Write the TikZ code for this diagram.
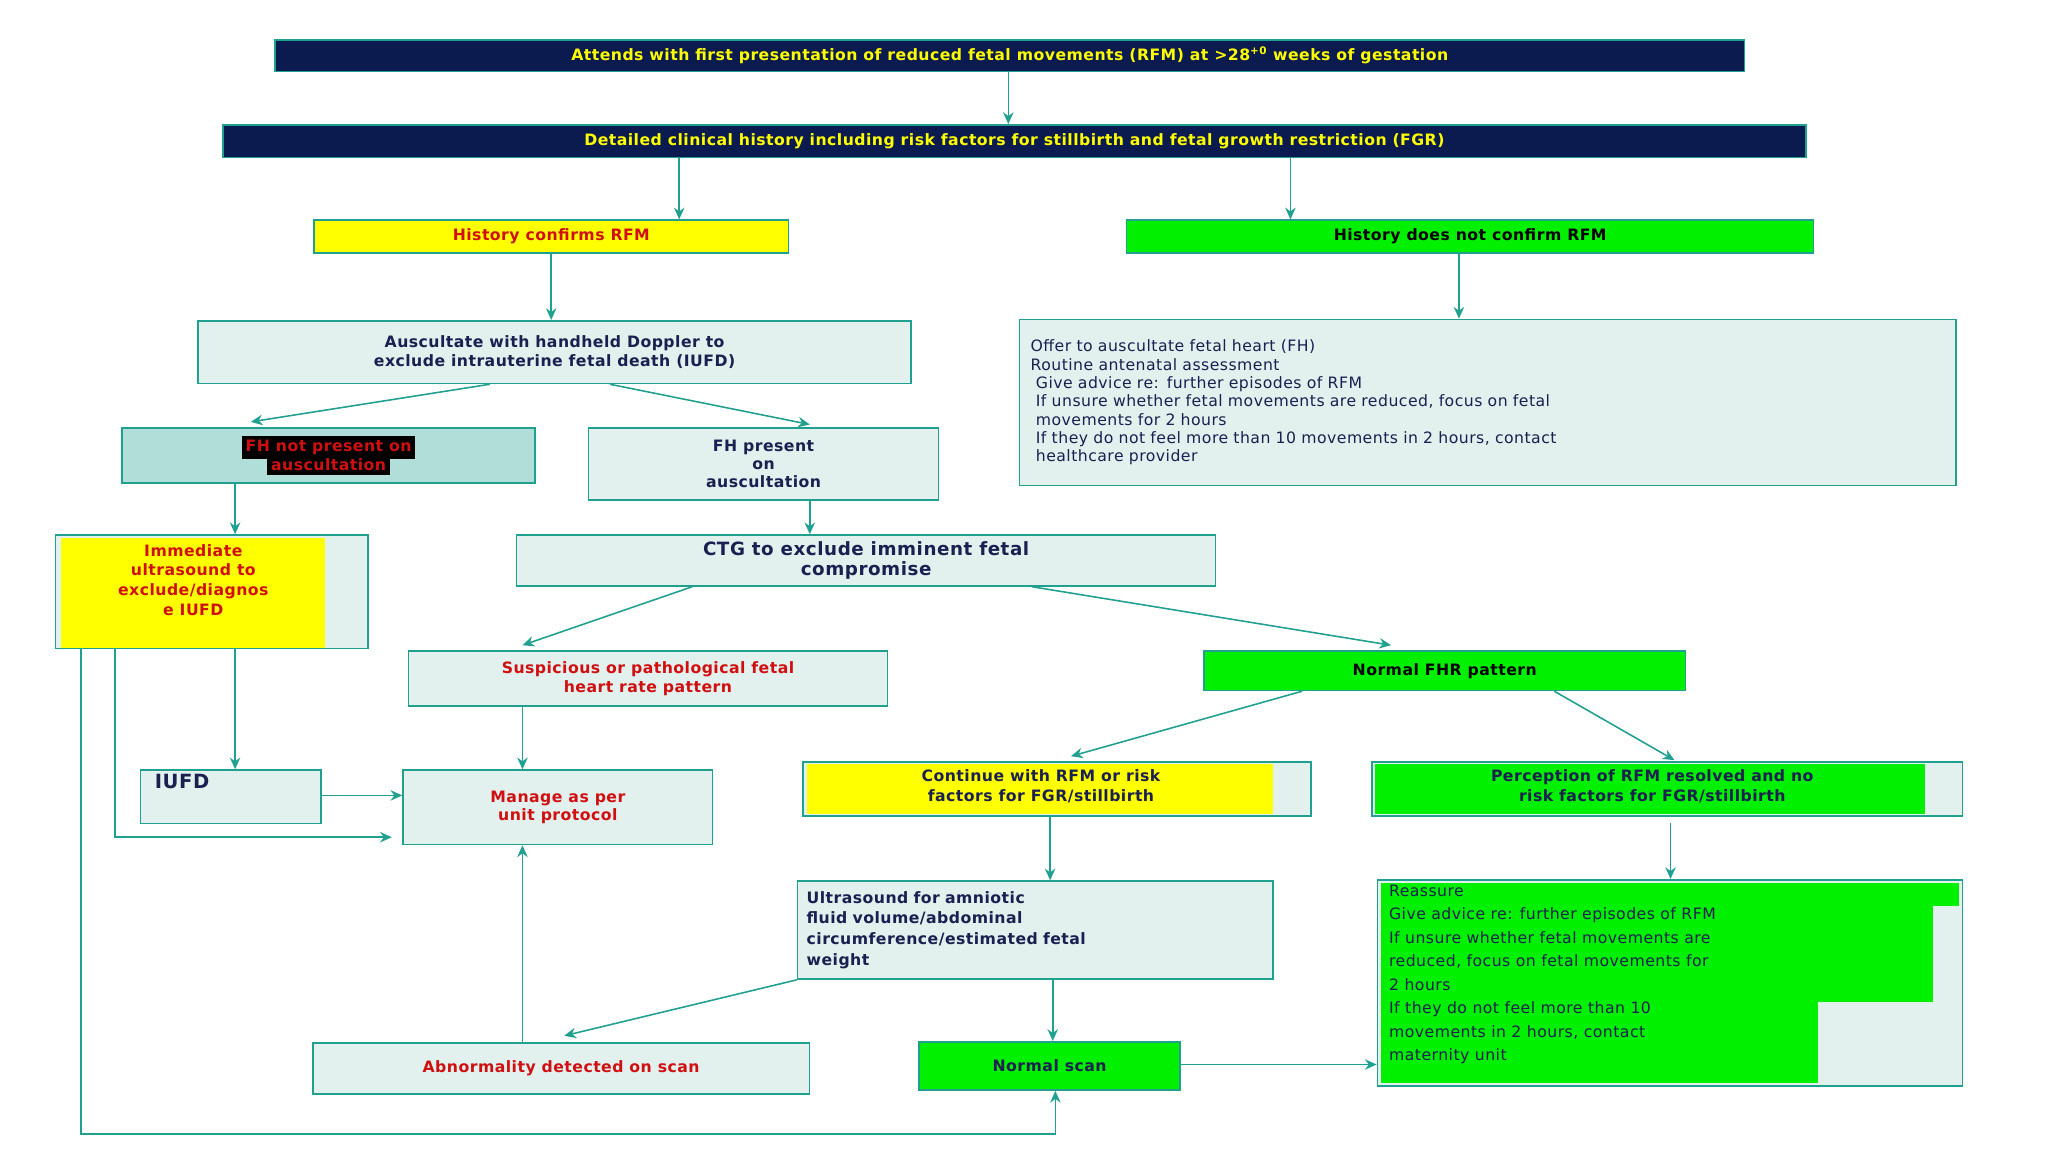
\documentclass[tikz,border=0pt]{standalone}
\usepackage{fontspec}
\setmainfont{DejaVu Sans}[LetterSpace=3]
\usetikzlibrary{arrows.meta}
\definecolor{teal1}{HTML}{20A08F}
\definecolor{navy}{HTML}{0B1A4F}
\definecolor{lightb}{HTML}{E2F0EE}
\definecolor{grn}{HTML}{00F000}
\definecolor{yel}{HTML}{FFFF00}
\definecolor{rd}{HTML}{D01010}
\definecolor{dk}{HTML}{1A2050}
\begin{document}
\begin{tikzpicture}[x=1pt,y=-1pt,
 box/.style={draw=teal1,line width=1.2pt,anchor=north west,inner sep=2pt,align=center,fill=lightb,font=\fontsize{12}{14}\selectfont,text=dk},
 arr/.style={draw=teal1,line width=1.2pt,-{Stealth[length=9pt,width=8pt]}},
 ln/.style={draw=teal1,line width=1.2pt}]
\useasboundingbox (0,0) rectangle (1568,882);
\fill[white] (0,0) rectangle (1568,882);
\def\bx#1#2#3#4#5{\path (#2,#3) rectangle (#4,#5); }
% top
\node[box,fill=navy,text=yel,font=\bfseries\fontsize{12}{14}\selectfont,minimum width=1125pt,minimum height=24pt] (top) at (210,30) {Attends with first presentation of reduced fetal movements (RFM) at >28\textsuperscript{+0} weeks of gestation};
\node[box,fill=navy,text=yel,font=\bfseries\fontsize{12}{14}\selectfont,minimum width=1212pt,minimum height=25pt] (det) at (170,95) {Detailed clinical history including risk factors for stillbirth and fetal growth restriction (FGR)};
\node[box,fill=yel,text=rd,minimum width=363pt,minimum height=25pt] (hc) at (240,168) {\bfseries History confirms RFM};
\node[box,fill=grn,text=black,minimum width=526pt,minimum height=25pt] (hn) at (862,168) {\bfseries History does not confirm RFM};
\node[box,minimum width=546pt,minimum height=48pt] (aus) at (151,245) {\bfseries Auscultate with handheld Doppler to\\\bfseries exclude intrauterine fetal death (IUFD)};
\node[box,minimum width=717pt,minimum height=127pt,align=left,text=dk,text width=700pt,inner sep=5pt] (off) at (780,244) {Offer to auscultate fetal heart (FH)\\Routine antenatal assessment\\\ Give advice re: further episodes of RFM\\\ If unsure whether fetal movements are reduced, focus on fetal\\\ movements for 2 hours\\\ If they do not feel more than 10 movements in 2 hours, contact\\\ healthcare provider};
\node[box,fill=teal1!35,minimum width=316pt,minimum height=42pt,text=rd] (fn) at (93,327) {\bfseries\colorbox{black}{FH not present on}\\[-4pt]\bfseries\colorbox{black}{auscultation}};
\node[box,minimum width=268pt,minimum height=55pt] (fp) at (450,327) {\bfseries FH present\\\bfseries on\\\bfseries auscultation};
\node[box,minimum width=239pt,minimum height=87pt] (im) at (42,409) {};
\fill[yel] (47,412) rectangle (249,496);
\node[text=rd,font=\bfseries\fontsize{12}{15}\selectfont,align=center] at (148,444) {Immediate\\ultrasound to\\exclude/diagnos\\e IUFD};
\node[box,minimum width=535pt,minimum height=39pt,font=\bfseries\fontsize{14}{16}\selectfont] (ctg) at (395,409) {CTG to exclude imminent fetal\\compromise};
\node[box,minimum width=367pt,minimum height=42pt,text=rd] (sus) at (312,498) {\bfseries Suspicious or pathological fetal\\\bfseries heart rate pattern};
\node[box,fill=grn,text=black,minimum width=369pt,minimum height=30pt] (nf) at (921,498) {\bfseries Normal FHR pattern};
\node[box,minimum width=138pt,minimum height=41pt,align=left,font=\bfseries\fontsize{15}{17}\selectfont,text=dk] (iu) at (107,589) {};
\node[anchor=north west,font=\bfseries\fontsize{15}{17}\selectfont,text=dk] at (115,589) {IUFD};
\node[box,minimum width=237pt,minimum height=57pt,text=rd] (man) at (308,589) {\bfseries Manage as per\\\bfseries unit protocol};
\node[box,minimum width=389pt,minimum height=41pt] (co) at (614,583) {};
\fill[yel] (618,585) rectangle (975,623);
\node[font=\bfseries\fontsize{12}{15}\selectfont,text=dk,align=center] at (797,602) {Continue with RFM or risk\\factors for FGR/stillbirth};
\node[box,minimum width=452pt,minimum height=41pt] (pe) at (1050,583) {};
\fill[grn] (1053,585) rectangle (1474,623);
\node[font=\bfseries\fontsize{12}{15}\selectfont,text=dk,align=center] at (1265,602) {Perception of RFM resolved and no\\risk factors for FGR/stillbirth};
\node[box,minimum width=364pt,minimum height=75pt,align=left,text width=350pt,font=\bfseries\fontsize{12}{16}\selectfont] (us) at (610,674) {Ultrasound for amniotic\\fluid volume/abdominal\\circumference/estimated fetal\\weight};
\node[box,minimum width=448pt,minimum height=158pt] (re) at (1054,673) {};
\fill[grn] (1057,676) rectangle (1500,694);
\fill[grn] (1057,694) rectangle (1480,767);
\fill[grn] (1057,767) rectangle (1392,829);
\node[anchor=north west,align=left,text=dk,font=\fontsize{12}{18}\selectfont] at (1060,674) {Reassure\\Give advice re: further episodes of RFM\\If unsure whether fetal movements are\\reduced, focus on fetal movements for\\2 hours\\If they do not feel more than 10\\movements in 2 hours, contact\\maternity unit};
\node[box,minimum width=380pt,minimum height=39pt,text=rd] (ab) at (239,798) {\bfseries Abnormality detected on scan};
\node[box,fill=grn,text=dk,minimum width=200pt,minimum height=37pt] (ns) at (703,797) {\bfseries Normal scan};
% arrows
\draw[arr] (top.south -| 772,0) -- (det.north -| 772,0);
\draw[arr] (det.south -| 520,0) -- (hc.north -| 520,0);
\draw[arr] (det.south -| 988,0) -- (hn.north -| 988,0);
\draw[arr] (hc.south -| 422,0) -- (aus.north -| 422,0);
\draw[arr] (hn.south -| 1117,0) -- (off.north -| 1117,0);
\draw[arr] (aus.south -| 375,0) -- (192,323);
\draw[arr] (aus.south -| 467,0) -- (620,325);
\draw[arr] (fn.south -| 180,0) -- (im.north -| 180,0);
\draw[arr] (fp.south -| 620,0) -- (ctg.north -| 620,0);
\draw[arr] (ctg.south -| 530,0) -- (400,494);
\draw[arr] (ctg.south -| 790,0) -- (1065,494);
\draw[arr] (im.south -| 180,0) -- (iu.north -| 180,0);
\draw[arr] (im.south -| 88,0) |- (300,641);
\draw[arr] (im.south -| 62,0) -- (62,868) -| (ns.south -| 808,0);
\draw[arr] (sus.south -| 400,0) -- (man.north -| 400,0);
\draw[arr] (iu.east |- 0,609) -- (man.west |- 0,609);
\draw[arr] (nf.south -| 997,0) -- (820,579);
\draw[arr] (nf.south -| 1190,0) -- (1282,582);
\draw[arr] (co.south -| 804,0) -- (us.north -| 804,0);
\draw[arr] (1279,630) -- (re.north -| 1279,0);
\draw[arr] (us.south west) -- (432,793);
\draw[arr] (us.south -| 806,0) -- (ns.north -| 806,0);
\draw[arr] (ab.north -| 400,0) -- (man.south -| 400,0);
\draw[arr] (ns.east |- 0,815) -- (re.west |- 0,815);
\end{tikzpicture}
\end{document}
